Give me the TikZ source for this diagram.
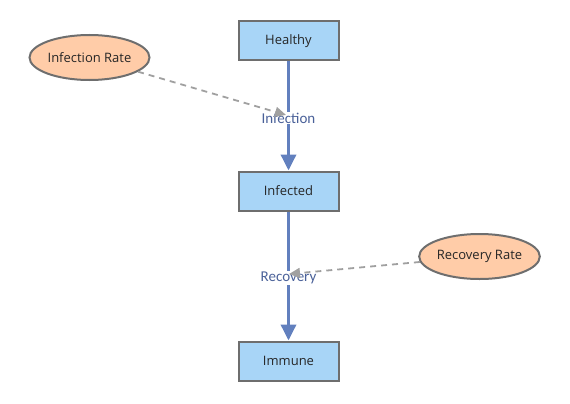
\documentclass[tikz,border=0pt]{standalone}
\usepackage{fontspec}
\setmainfont{Open Sans}
\newfontfamily\lblfont{Carlito}
\usetikzlibrary{arrows.meta,shapes.geometric}
\definecolor{boxfill}{HTML}{A8D5F7}
\definecolor{boxline}{HTML}{6E6E6E}
\definecolor{ellfill}{HTML}{FFCCA8}
\definecolor{flowcol}{HTML}{6280BE}
\definecolor{lblcol}{HTML}{4A6199}
\definecolor{dashcol}{HTML}{A0A0A0}
\tikzset{
  stock/.style={draw=boxline, line width=2pt, fill=boxfill, minimum width=100pt, minimum height=39pt, inner sep=0pt, font=\fontsize{13}{15}\selectfont, text=black!85},
  rate/.style={draw=boxline, line width=2pt, fill=ellfill, ellipse, minimum width=120pt, minimum height=45pt, inner sep=0pt, font=\fontsize{13}{15}\selectfont, text=black!85},
  flow/.style={draw=flowcol, line width=3.5pt, -{Triangle[length=16pt,width=15pt]}},
  flowlbl/.style={fill=white, inner sep=1pt, text=lblcol, font=\lblfont\fontsize{15}{17}\selectfont},
  link/.style={draw=dashcol, line width=1.8pt, dash pattern=on 6pt off 5pt, -{Triangle[length=11pt,width=10pt]}}
}
\begin{document}
\begin{tikzpicture}[x=1pt,y=-1pt]
\useasboundingbox (0,0) rectangle (570,404);
\node[stock] (healthy) at (288.5,41) {Healthy};
\node[stock] (infected) at (288.5,191) {Infected};
\node[stock] (immune) at (288.5,361) {Immune};
\node[rate] (irate) at (89.5,57.5) {Infection Rate};
\node[rate] (rrate) at (479.5,256.5) {Recovery Rate};
\coordinate (itip) at (286,115);
\coordinate (rtip) at (289,274);
\draw[flow] (healthy) -- node[flowlbl, yshift=-2pt] (inflbl) {Infection} (infected);
\draw[flow] (infected) -- node[flowlbl, yshift=-2pt] (reclbl) {Recovery} (immune);
\draw[link] (irate) -- (itip);
\draw[link] (rrate) -- (rtip);
\end{tikzpicture}
\end{document}
